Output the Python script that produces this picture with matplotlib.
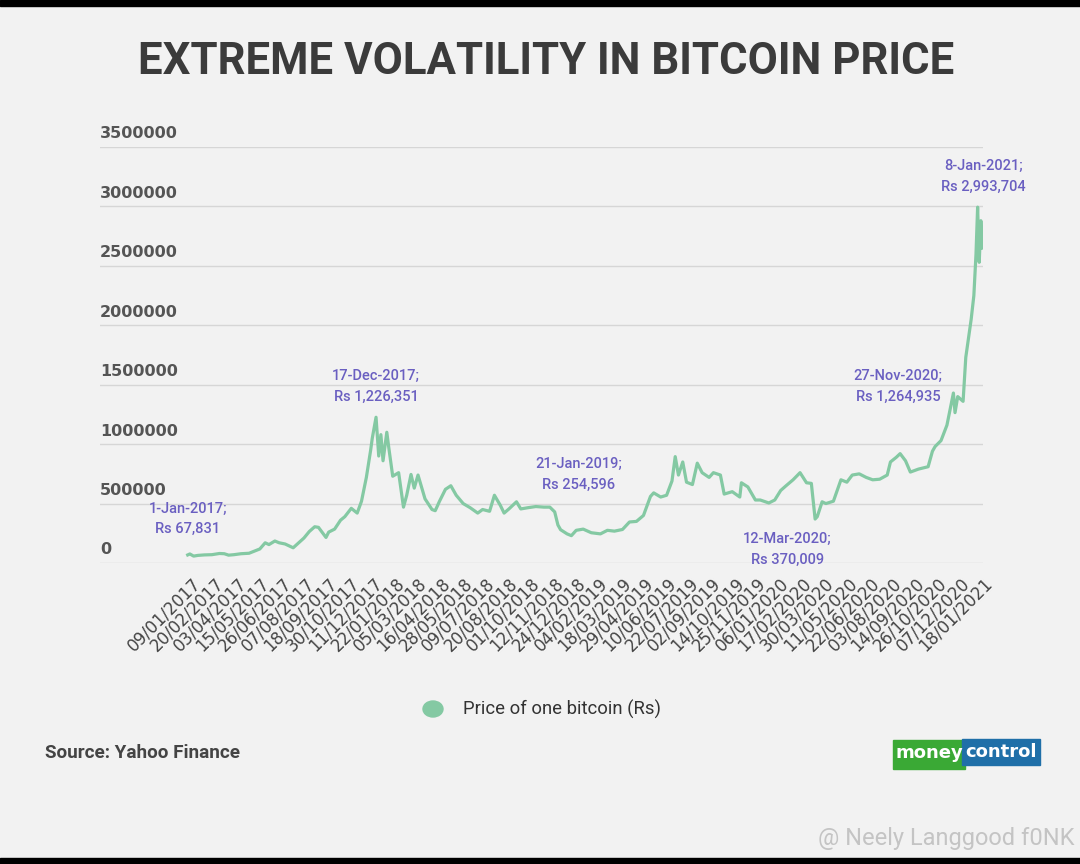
import numpy as np
import pandas as pd
import matplotlib
matplotlib.use("Agg")
import matplotlib.pyplot as plt
import matplotlib.dates as mdates
from matplotlib.patches import Rectangle

# price of one bitcoin (Rs)
price_dates = [
    '2017-01-01', '2017-01-05', '2017-01-12', '2017-01-20', '2017-02-01', '2017-02-15',
    '2017-03-01', '2017-03-10', '2017-03-18', '2017-03-28', '2017-04-10', '2017-04-25',
    '2017-05-05', '2017-05-15', '2017-05-25', '2017-06-01', '2017-06-12', '2017-06-20',
    '2017-07-01', '2017-07-16', '2017-07-25', '2017-08-05', '2017-08-15', '2017-08-25',
    '2017-09-01', '2017-09-15', '2017-09-20', '2017-10-01', '2017-10-12', '2017-10-20',
    '2017-11-01', '2017-11-12', '2017-11-20', '2017-11-29', '2017-12-07', '2017-12-10',
    '2017-12-17', '2017-12-22', '2017-12-26', '2017-12-30',
    '2018-01-06', '2018-01-10', '2018-01-17', '2018-01-28', '2018-02-06', '2018-02-12',
    '2018-02-20', '2018-02-26', '2018-03-05', '2018-03-18', '2018-03-31', '2018-04-06',
    '2018-04-14', '2018-04-25', '2018-05-05', '2018-05-15', '2018-05-28', '2018-06-10',
    '2018-06-24', '2018-07-03', '2018-07-16', '2018-07-25', '2018-08-05', '2018-08-12',
    '2018-08-21', '2018-09-04', '2018-09-12', '2018-09-25', '2018-10-10', '2018-10-25',
    '2018-11-05', '2018-11-14', '2018-11-20', '2018-11-25', '2018-12-07', '2018-12-15',
    '2018-12-24',
    '2019-01-06', '2019-01-21', '2019-02-07', '2019-02-20', '2019-03-05', '2019-03-20',
    '2019-04-02', '2019-04-15', '2019-04-28', '2019-05-11', '2019-05-17', '2019-05-30',
    '2019-06-10', '2019-06-20', '2019-06-26', '2019-07-02', '2019-07-10', '2019-07-17',
    '2019-07-28', '2019-08-06', '2019-08-15', '2019-08-28', '2019-09-05', '2019-09-18',
    '2019-09-25', '2019-10-10', '2019-10-24', '2019-10-27', '2019-11-08', '2019-11-22',
    '2019-12-01', '2019-12-17', '2019-12-28',
    '2020-01-08', '2020-01-18', '2020-01-31', '2020-02-13', '2020-02-25', '2020-03-05',
    '2020-03-12', '2020-03-16', '2020-03-25', '2020-04-01', '2020-04-15', '2020-04-29',
    '2020-05-10', '2020-05-20', '2020-06-02', '2020-06-15', '2020-06-27', '2020-07-10',
    '2020-07-24', '2020-07-30', '2020-08-10', '2020-08-17', '2020-08-27', '2020-09-05',
    '2020-09-20', '2020-10-08', '2020-10-16', '2020-10-21', '2020-11-01', '2020-11-12',
    '2020-11-24', '2020-11-27', '2020-12-02', '2020-12-12', '2020-12-17', '2020-12-27',
    '2021-01-01', '2021-01-05', '2021-01-08', '2021-01-11', '2021-01-14', '2021-01-17',
]
price_values = [
    67831, 76000, 58000, 64000, 68000, 70000,
    80000, 78000, 66000, 70000, 78000, 82000,
    100000, 118000, 170000, 155000, 185000, 170000,
    160000, 128000, 165000, 210000, 265000, 305000,
    300000, 215000, 260000, 285000, 360000, 390000,
    460000, 420000, 520000, 720000, 950000, 1050000,
    1226351, 900000, 1080000, 860000,
    1100000, 960000, 730000, 760000, 470000, 570000,
    745000, 630000, 740000, 540000, 450000, 440000,
    520000, 620000, 650000, 570000, 500000, 465000,
    420000, 450000, 435000, 570000, 485000, 420000,
    455000, 515000, 455000, 465000, 475000, 470000,
    470000, 430000, 320000, 280000, 245000, 230000,
    275000,
    285000, 254596, 245000, 275000, 268000, 282000,
    345000, 350000, 400000, 560000, 590000, 555000,
    570000, 690000, 895000, 740000, 850000, 680000,
    660000, 840000, 760000, 720000, 760000, 740000,
    580000, 600000, 555000, 675000, 640000, 530000,
    530000, 505000, 530000,
    610000, 650000, 700000, 760000, 675000, 670000,
    370009, 390000, 515000, 500000, 520000, 700000,
    680000, 740000, 750000, 720000, 700000, 705000,
    740000, 850000, 890000, 920000, 860000, 765000,
    790000, 810000, 940000, 980000, 1030000, 1160000,
    1430000, 1264935, 1400000, 1360000, 1730000, 2050000,
    2250000, 2600000, 2993704, 2530000, 2880000, 2650000,
]

y_ticks = [0, 500000, 1000000, 1500000, 2000000, 2500000, 3000000, 3500000]

tick_labels = [
    '09/01/2017', '20/02/2017', '03/04/2017', '15/05/2017', '26/06/2017', '07/08/2017',
    '18/09/2017', '30/10/2017', '11/12/2017', '22/01/2018', '05/03/2018', '16/04/2018',
    '28/05/2018', '09/07/2018', '20/08/2018', '01/10/2018', '12/11/2018', '24/12/2018',
    '04/02/2019', '18/03/2019', '29/04/2019', '10/06/2019', '22/07/2019', '02/09/2019',
    '14/10/2019', '25/11/2019', '06/01/2020', '17/02/2020', '30/03/2020', '11/05/2020',
    '22/06/2020', '03/08/2020', '14/09/2020', '26/10/2020', '07/12/2020', '18/01/2021',
]

note_dates = ['2017-01-01', '2017-12-17', '2019-01-21', '2020-03-12', '2020-11-27', '2021-01-08']
note_values = [67831, 1226351, 254596, 370009, 1264935, 2993704]
note_texts = ['1-Jan-2017;\nRs 67,831', '17-Dec-2017;\nRs 1,226,351',
              '21-Jan-2019;\nRs 254,596', '12-Mar-2020;\nRs 370,009',
              '27-Nov-2020;\nRs 1,264,935', '8-Jan-2021;\nRs 2,993,704']
# text offsets from the point, in points
note_offsets = [(0, 26), (0, 22), (-9, 42), (-20, -22), (-41, 19), (4, 22)]

bg = '#f2f2f2'
green = '#84c9a3'
purple = '#6a5fc1'

fig = plt.figure(figsize=(10.8, 8.64), dpi=100, facecolor=bg)
W, H = 1080, 864
ax = fig.add_axes([100 / W, 1 - 563 / H, 883 / W, 416 / H])
ax.set_facecolor('none')

x = pd.to_datetime(price_dates)
ax.plot(x, price_values, color=green, lw=2.3, solid_joinstyle='round', zorder=3)

ax.set_ylim(0, 3500000)
ax.set_xlim(pd.Timestamp('2016-07-22'), pd.Timestamp('2021-01-18'))
ax.set_yticks(y_ticks)
ax.set_yticklabels([])
ax.grid(axis='y', color='#d6d6d6', lw=1)
ax.tick_params(length=0)
for s in ax.spines.values():
    s.set_visible(False)

yt = ax.get_yaxis_transform()
for v in y_ticks:
    ax.annotate(str(v), (0, v), xycoords=yt, xytext=(0, 4), textcoords='offset points',
                ha='left', va='bottom', fontsize=11.5, fontweight='bold', color='#555555')

ticks = pd.to_datetime(tick_labels, dayfirst=True)
ax.set_xticks(ticks)
ax.set_xticklabels(tick_labels, rotation=45, ha='right', va='top', rotation_mode='anchor',
                   fontsize=12, color='#444444')
ax.tick_params(axis='x', pad=8)

for d, v, t, off in zip(note_dates, note_values, note_texts, note_offsets):
    ax.annotate(t, (pd.Timestamp(d), v), xytext=off, textcoords='offset points',
                ha='center', va='center', fontsize=10.5, color=purple, fontweight='medium',
                family=['Roboto', 'DejaVu Sans'], linespacing=1.6, zorder=4)

fig.text(546 / W, 1 - 62 / H, 'EXTREME VOLATILITY IN BITCOIN PRICE', ha='center', va='center',
         fontsize=31.5, fontweight='bold', family='Roboto', color='#3b3b3b')

# legend
fig.patches.append(plt.Circle((433 / W, 1 - 709 / H), 10 / W, transform=fig.transFigure,
                              color=green, zorder=5))
fig.text(463 / W, 1 - 709 / H, 'Price of one bitcoin (Rs)', ha='left', va='center',
         fontsize=13.3, family=['Liberation Sans Narrow', 'Roboto'], color='#333333')

fig.text(45 / W, 1 - 753 / H, 'Source: Yahoo Finance', ha='left', va='center',
         fontsize=13.6, fontweight='bold', family=['Liberation Sans Narrow', 'Roboto'],
         color='#444444')

# moneycontrol logo
fig.patches.append(Rectangle((893 / W, 1 - 769 / H), 72 / W, 29 / H, transform=fig.transFigure,
                             color='#3aa935', zorder=5))
fig.patches.append(Rectangle((962 / W, 1 - 765 / H), 78 / W, 26 / H, transform=fig.transFigure,
                             color='#1f6fa8', zorder=5))
fig.text(929 / W, 1 - 753 / H, 'money', ha='center', va='center', fontsize=13,
         fontweight='bold', color='white', zorder=6)
fig.text(1001 / W, 1 - 752 / H, 'control', ha='center', va='center', fontsize=13,
         fontweight='bold', color='white', zorder=6)

fig.text(1074 / W, 1 - 838 / H, '@ Neely Langgood f0NK', ha='right', va='center',
         fontsize=17, color='#c4c4c4', family=['Liberation Sans Narrow', 'Roboto'])

# black bands of the screenshot
fig.patches.append(Rectangle((0, 1 - 6 / H), 1, 6 / H, transform=fig.transFigure,
                             color='black', zorder=10))
fig.patches.append(Rectangle((0, 0), 1, 6 / H, transform=fig.transFigure,
                             color='black', zorder=10))

fig.savefig('out.png', dpi=100, facecolor=bg)
